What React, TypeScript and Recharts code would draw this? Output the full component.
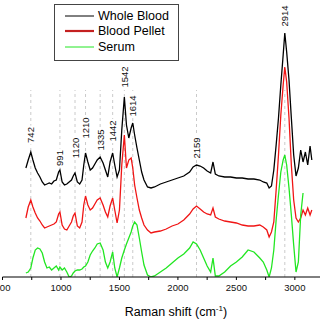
import {
  Legend,
  Line,
  LineChart,
  ReferenceDot,
  ReferenceLine,
  XAxis,
  YAxis,
} from 'recharts'

// Raman shift grid (cm-1) shared by all three spectra
const shifts = [
  700, 720, 742, 760, 780, 800, 820, 840, 860, 880, 900, 920, 940, 960, 980, 991,
  1010, 1030, 1050, 1070, 1090, 1105, 1120, 1140, 1160, 1180, 1195, 1210, 1230, 1250,
  1270, 1290, 1310, 1335, 1360, 1380, 1400, 1420, 1442, 1460, 1480, 1500, 1520, 1542,
  1560, 1580, 1600, 1614, 1630, 1650, 1670, 1690, 1710, 1740, 1770, 1800, 1850, 1900,
  1950, 2000, 2050, 2100, 2130, 2159, 2190, 2220, 2250, 2280, 2300, 2320, 2350, 2400,
  2450, 2500, 2550, 2600, 2650, 2700, 2730, 2760, 2780, 2800, 2820, 2840, 2860, 2880,
  2900, 2914, 2930, 2950, 2970, 2990, 3010, 3030, 3050, 3070, 3090, 3110, 3130, 3145,
]

// offset intensities (a.u.), one value per shift
const wholeBlood = [
  109, 117, 125, 117, 109, 104, 100, 95, 92, 93, 94, 93, 96, 97, 105, 107,
  95, 92, 93, 95, 97, 101, 104, 95, 93, 97, 112, 124, 115, 107,
  109, 113, 117, 120, 114, 107, 100, 115, 124, 112, 100, 107, 147, 180,
  152, 139, 149, 154, 142, 129, 117, 105, 97, 90, 89, 90, 93, 95,
  97, 99, 101, 105, 110, 112, 111, 109, 106, 104, 115, 103, 101, 100,
  100, 99, 99, 98, 98, 97, 95, 94, 89, 91, 107, 132, 159, 192,
  222, 244, 225, 197, 159, 122, 101, 109, 127, 115, 125, 112, 131, 117,
]

const bloodPellet = [
  59, 70, 77, 70, 64, 59, 56, 52, 49, 50, 51, 52, 53, 55, 63, 65,
  52, 48, 47, 51, 55, 61, 64, 51, 49, 55, 72, 81, 72, 67,
  69, 73, 77, 79, 72, 65, 60, 71, 79, 67, 54, 67, 112, 142,
  109, 117, 119, 109, 92, 79, 67, 59, 52, 47, 44, 45, 46, 48,
  51, 53, 57, 63, 68, 71, 68, 65, 63, 62, 69, 60, 58, 56,
  55, 54, 52, 51, 51, 52, 50, 47, 40, 45, 55, 87, 122, 162,
  192, 210, 195, 159, 112, 77, 59, 55, 59, 67, 62, 69, 62, 67,
]

const serum = [
  4, 5, 9, 19, 27, 29, 28, 24, 15, 9, 10, 7, 9, 11, 7, 10,
  7, 9, 5, 0, 1, 4, 6, 7, 7, 8, 10, 11, 15, 22,
  26, 29, 33, 34, 27, 15, 9, 15, 25, 9, 0, 9, 19, 27,
  33, 39, 45, 51, 55, 52, 39, 25, 12, 2, 0, 1, 5, 9,
  14, 19, 23, 29, 35, 33, 27, 19, 11, 5, 19, 1, 1, 5,
  11, 15, 20, 27, 25, 19, 15, 7, 0, 9, 27, 57, 82, 105,
  117, 122, 112, 89, 62, 32, 5, 15, 62, 84, null, null, null, null,
]

const seriesNames = ['Whole Blood', 'Blood Pellet', 'Serum']
const seriesColors = ['#000000', '#f01515', '#22e622']

// annotated band positions and the height of their tags
const peaks = [742, 991, 1120, 1210, 1335, 1442, 1542, 1614, 2159, 2914]
const peakTagLevels = [142, 119, 129, 149, 137, 146, 200, 171, 129, 261]

const xTicks = [500, 750, 1000, 1250, 1500, 1750, 2000, 2250, 2500, 2750, 3000]

const data = shifts.map((shift, i) => ({
  shift,
  wb: wholeBlood[i],
  bp: bloodPellet[i],
  se: serum[i],
}))
const keys = ['wb', 'bp', 'se']

const FONT = '"Liberation Sans", Arial, sans-serif'

function PeakTag({ cx, cy, text }: { cx: number; cy: number; text: string }) {
  const len = text.length * 5.3 + 3
  return (
    <g>
      <rect x={cx - 5} y={cy - len / 2} width={10} height={len} fill="#fff" />
      <text
        x={cx}
        y={cy}
        transform={`rotate(-90 ${cx} ${cy})`}
        textAnchor="middle"
        dominantBaseline="central"
        fontSize={9.5}
        fill="#111"
      >
        {text}
      </text>
    </g>
  )
}

// boxed legend in series order; the pellet swatch is drawn heavier
function LegendBox() {
  return (
    <div
      style={{
        width: 123,
        height: 52,
        border: '1px solid #444',
        background: '#fff',
        paddingTop: 3,
      }}
    >
      {seriesNames.map((name, i) => (
        <div
          key={name}
          style={{ display: 'flex', alignItems: 'center', height: 15.5, fontSize: 12.5, color: '#000' }}
        >
          <svg width={30} height={8} style={{ marginLeft: 10, marginRight: 3 }}>
            <line
              x1={0}
              x2={29}
              y1={4}
              y2={4}
              stroke={i === 1 ? '#c42020' : seriesColors[i]}
              strokeWidth={i === 1 ? 2.2 : 1}
            />
          </svg>
          <span>{name}</span>
        </div>
      ))}
    </div>
  )
}

function AxisTitle({ viewBox }: any) {
  const x = 216
  const y = viewBox.y + 39
  return (
    <text x={x} y={y} textAnchor="middle" fontSize={12.5} fill="#000">
      Raman shift (cm
      <tspan dy={-5} fontSize={8}>
        -1
      </tspan>
      <tspan dy={5}>)</tspan>
    </text>
  )
}

export default function App() {
  return (
    <div
      style={{
        position: 'absolute',
        left: 0,
        top: 0,
        width: 320,
        height: 320,
        overflow: 'hidden',
        background: '#fff',
        fontFamily: FONT,
      }}
    >
      <div style={{ position: 'absolute', left: -40, top: 0 }}>
        <LineChart
          width={360}
          height={320}
          data={data}
          margin={{ top: 0, right: 0, left: 42.5, bottom: 13 }}
        >
          <XAxis
            dataKey="shift"
            type="number"
            domain={[500, 3215]}
            ticks={xTicks}
            allowDataOverflow
            tickFormatter={(v: number) => (v % 500 === 0 ? String(v) : '')}
            tickSize={3}
            tickMargin={4}
            height={30}
            stroke="#000"
            tick={{ fontSize: 9.5, fill: '#111' }}
            label={{ content: AxisTitle }}
          />
          <YAxis hide type="number" domain={[0, 277]} allowDataOverflow />
          {peaks.map((p) => (
            <ReferenceLine
              key={`l${p}`}
              segment={[
                { x: p, y: 0 },
                { x: p, y: 187 },
              ]}
              stroke="#bdbdbd"
              strokeDasharray="3 3"
              strokeWidth={0.8}
            />
          ))}
          {keys.map((k, i) => (
            <Line
              key={k}
              dataKey={k}
              name={seriesNames[i]}
              type="linear"
              stroke={seriesColors[i]}
              strokeWidth={1.3}
              dot={false}
              connectNulls={false}
              isAnimationActive={false}
            />
          ))}
          {peaks.map((p, i) => (
            <ReferenceDot
              key={`t${p}`}
              x={p}
              y={peakTagLevels[i]}
              r={0}
              shape={(s: any) => <PeakTag cx={s.cx} cy={s.cy} text={String(p)} />}
            />
          ))}
          <Legend
            layout="horizontal"
            verticalAlign="middle"
            align="center"
            content={LegendBox}
            wrapperStyle={{ left: 94, top: 4, width: 125, height: 55 }}
          />
        </LineChart>
      </div>
    </div>
  )
}
